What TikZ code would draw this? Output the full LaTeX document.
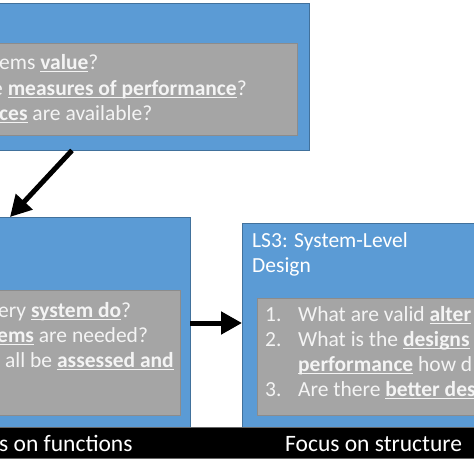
\documentclass[tikz,border=0pt]{standalone}
\usepackage{fontspec}
\setmainfont{Carlito}
\usetikzlibrary{arrows.meta,positioning}

\definecolor{lsblue}{HTML}{5B9BD5}
\definecolor{lsedge}{HTML}{41719C}
\definecolor{qgray}{HTML}{A5A5A5}
\definecolor{qedge}{HTML}{8C8C8C}
\definecolor{qtext}{HTML}{F4F4F4}

% bold, underlined key term
\newcommand{\keyterm}[1]{\textbf{\setbox0\hbox{#1}\rlap{\rule[-3pt]{\wd0}{1.4pt}}\box0}}

\tikzset{
  qtxt/.style={text=qtext, anchor=base west, inner sep=0pt,
    font=\fontsize{21.5}{25}\selectfont},
  flow/.style={-{Triangle[length=21pt,width=22pt]}, line width=5pt, black}
}

\begin{document}
\begin{tikzpicture}[x=1pt,y=-1pt]
  \useasboundingbox (0,0) rectangle (474,474);
  \clip (0,0) rectangle (474,474);

  % level boxes
  \begin{scope}[every node/.style={draw=lsedge, fill=lsblue, inner sep=0pt, anchor=north west}]
    \node (ls1) [minimum width=320pt, minimum height=147pt] at (-11,3) {};
    \node (ls2) [minimum width=201pt, minimum height=223pt] at (-11,217) {};
    \node (ls3) [minimum width=248pt, minimum height=217pt] at (242,223) {};
  \end{scope}

  % question boxes
  \begin{scope}[every node/.style={draw=qedge, fill=qgray, inner sep=0pt, anchor=north west}]
    \node (q1) [minimum width=308pt, minimum height=92pt] at (-11,43) {};
    \node (q2) [minimum width=191pt, minimum height=125pt] at (-11,290) {};
    \node (q3) [minimum width=233pt, minimum height=117pt] at (257,298) {};
  \end{scope}

  % questions
  \node (q1a) [qtxt] at (-1,69) {ems \keyterm{value}?};
  \node (q1b) [qtxt] at (-8,95) {e \keyterm{measures of performance}?};
  \node (q1c) [qtxt] at (-1,120) {\keyterm{ces} are available?};

  \node (q2a) [qtxt] at (-2,317) {ery \keyterm{system do}?};
  \node (q2b) [qtxt] at (-3,342) {\keyterm{ems} are needed?};
  \node (q2c) [qtxt] at (5,367) {all be \keyterm{assessed and}};

  \node (ls3t) [qtxt, text=white] at (252,247) {LS3: System-Level};
  \node (ls3d) [qtxt, text=white] at (252,272) {Design};
  \node (q3a) [qtxt] at (265,321) {\makebox[33pt][l]{1.}What are valid \keyterm{alter}};
  \node (q3b) [qtxt] at (265,346) {\makebox[33pt][l]{2.}What is the \keyterm{designs}};
  \node (q3c) [qtxt] at (298,371) {\keyterm{performance} how d};
  \node (q3d) [qtxt] at (265,396) {\makebox[33pt][l]{3.}Are there \keyterm{better des}};

  % focus bar
  \node (bar) [draw=black!60, fill=black, inner sep=0pt, anchor=north west,
    minimum width=490pt, minimum height=31pt] at (-8,427) {};
  \node (fun) [qtxt, text=white, font=\fontsize{23.5}{28}\selectfont] at (-1,451) {s on functions};
  \node (str) [qtxt, text=white, font=\fontsize{23.5}{28}\selectfont] at (285,451) {Focus on structure};

  % arrows
  \draw[flow] ([xshift=83pt]ls1.south west) -- ([xshift=21pt]ls2.north west);
  \draw[flow] (ls2.east |- 0,323) -- (ls3.west |- 0,323);
\end{tikzpicture}
\end{document}
